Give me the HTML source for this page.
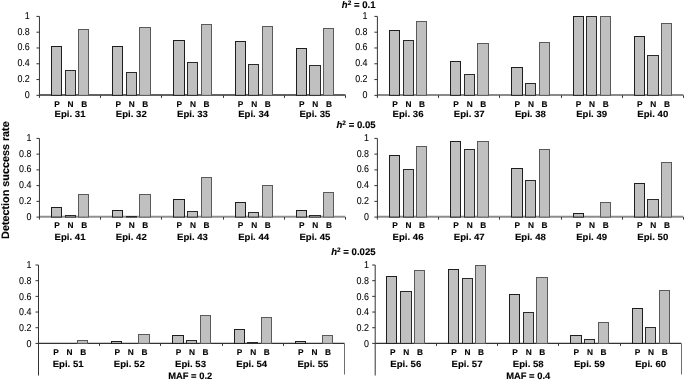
<!DOCTYPE html>
<html><head><meta charset="utf-8"><title>Detection success rate</title>
<style>
html,body{margin:0;padding:0;background:#fff;}
body{width:685px;height:381px;overflow:hidden;}
svg{display:block;}
text{text-rendering:geometricPrecision;font-family:"Liberation Sans", Arial, sans-serif;fill:#000;stroke:#000;stroke-width:0.12px;}
.yl{font-size:10px;text-anchor:end;stroke:#000;stroke-width:0.08px;}
.pnb{font-size:8.3px;font-weight:bold;text-anchor:middle;}
.epi{font-size:9.0px;font-weight:bold;text-anchor:middle;}
.h2{font-size:9.6px;font-weight:bold;text-anchor:end;}
.sup{font-size:6.5px;}
.maf{font-size:9.4px;font-weight:bold;text-anchor:middle;}
.ylab{font-size:10.8px;font-weight:bold;text-anchor:middle;}
</style></head><body>
<svg width="685" height="381" viewBox="0 0 685 381">
<g>
<rect width="685" height="381" fill="#fff"/>
<line x1="39.45" y1="95.00" x2="345.45" y2="95.00" stroke="#626262" stroke-width="1.8"/>
<rect x="51.50" y="46.50" width="10.00" height="48.85" fill="#c0c0c0" stroke="#1e1e1e" stroke-width="1"/>
<rect x="65.50" y="70.50" width="10.00" height="24.85" fill="#c0c0c0" stroke="#2a2a2a" stroke-width="1"/>
<rect x="78.50" y="29.50" width="10.00" height="65.85" fill="#c0c0c0" stroke="#5a5a5a" stroke-width="1"/>
<rect x="112.50" y="46.50" width="10.00" height="48.85" fill="#c0c0c0" stroke="#1e1e1e" stroke-width="1"/>
<rect x="126.50" y="72.50" width="10.00" height="22.85" fill="#c0c0c0" stroke="#2a2a2a" stroke-width="1"/>
<rect x="139.50" y="27.50" width="11.00" height="67.85" fill="#c0c0c0" stroke="#5a5a5a" stroke-width="1"/>
<rect x="173.50" y="40.50" width="11.00" height="54.85" fill="#c0c0c0" stroke="#1e1e1e" stroke-width="1"/>
<rect x="187.50" y="62.50" width="10.00" height="32.85" fill="#c0c0c0" stroke="#2a2a2a" stroke-width="1"/>
<rect x="201.50" y="24.50" width="10.00" height="70.85" fill="#c0c0c0" stroke="#5a5a5a" stroke-width="1"/>
<rect x="235.50" y="41.50" width="10.00" height="53.85" fill="#c0c0c0" stroke="#1e1e1e" stroke-width="1"/>
<rect x="248.50" y="64.50" width="10.00" height="30.85" fill="#c0c0c0" stroke="#2a2a2a" stroke-width="1"/>
<rect x="262.50" y="26.50" width="10.00" height="68.85" fill="#c0c0c0" stroke="#5a5a5a" stroke-width="1"/>
<rect x="296.50" y="48.50" width="10.00" height="46.85" fill="#c0c0c0" stroke="#1e1e1e" stroke-width="1"/>
<rect x="309.50" y="65.50" width="11.00" height="29.85" fill="#c0c0c0" stroke="#2a2a2a" stroke-width="1"/>
<rect x="323.50" y="28.50" width="10.00" height="66.85" fill="#c0c0c0" stroke="#5a5a5a" stroke-width="1"/>
<line x1="39.45" y1="16.40" x2="39.45" y2="97.85" stroke="#333333" stroke-width="1"/>
<line x1="36.45" y1="95.35" x2="39.45" y2="95.35" stroke="#333333" stroke-width="1"/>
<line x1="36.45" y1="79.56" x2="39.45" y2="79.56" stroke="#333333" stroke-width="1"/>
<line x1="36.45" y1="63.77" x2="39.45" y2="63.77" stroke="#333333" stroke-width="1"/>
<line x1="36.45" y1="47.98" x2="39.45" y2="47.98" stroke="#333333" stroke-width="1"/>
<line x1="36.45" y1="32.19" x2="39.45" y2="32.19" stroke="#333333" stroke-width="1"/>
<line x1="36.45" y1="16.40" x2="39.45" y2="16.40" stroke="#333333" stroke-width="1"/>
<line x1="100.50" y1="95.35" x2="100.50" y2="97.85" stroke="#333333" stroke-width="1"/>
<line x1="161.50" y1="95.35" x2="161.50" y2="97.85" stroke="#333333" stroke-width="1"/>
<line x1="223.50" y1="95.35" x2="223.50" y2="97.85" stroke="#333333" stroke-width="1"/>
<line x1="284.50" y1="95.35" x2="284.50" y2="97.85" stroke="#333333" stroke-width="1"/>
<line x1="345.50" y1="95.35" x2="345.50" y2="97.85" stroke="#333333" stroke-width="1"/>
<line x1="377.40" y1="95.00" x2="683.40" y2="95.00" stroke="#8a8a8a" stroke-width="1.9"/>
<rect x="389.50" y="30.50" width="10.00" height="64.85" fill="#c0c0c0" stroke="#1e1e1e" stroke-width="1"/>
<rect x="403.50" y="40.50" width="10.00" height="54.85" fill="#c0c0c0" stroke="#2a2a2a" stroke-width="1"/>
<rect x="416.50" y="21.50" width="10.00" height="73.85" fill="#c0c0c0" stroke="#5a5a5a" stroke-width="1"/>
<rect x="450.50" y="61.50" width="10.00" height="33.85" fill="#c0c0c0" stroke="#1e1e1e" stroke-width="1"/>
<rect x="464.50" y="74.50" width="10.00" height="20.85" fill="#c0c0c0" stroke="#2a2a2a" stroke-width="1"/>
<rect x="477.50" y="43.50" width="11.00" height="51.85" fill="#c0c0c0" stroke="#5a5a5a" stroke-width="1"/>
<rect x="511.50" y="67.50" width="11.00" height="27.85" fill="#c0c0c0" stroke="#1e1e1e" stroke-width="1"/>
<rect x="525.50" y="83.50" width="10.00" height="11.85" fill="#c0c0c0" stroke="#2a2a2a" stroke-width="1"/>
<rect x="539.50" y="42.50" width="10.00" height="52.85" fill="#c0c0c0" stroke="#5a5a5a" stroke-width="1"/>
<rect x="573.50" y="16.50" width="10.00" height="78.85" fill="#c0c0c0" stroke="#1e1e1e" stroke-width="1"/>
<rect x="586.50" y="16.50" width="10.00" height="78.85" fill="#c0c0c0" stroke="#2a2a2a" stroke-width="1"/>
<rect x="600.50" y="16.50" width="10.00" height="78.85" fill="#c0c0c0" stroke="#5a5a5a" stroke-width="1"/>
<rect x="634.50" y="36.50" width="10.00" height="58.85" fill="#c0c0c0" stroke="#1e1e1e" stroke-width="1"/>
<rect x="647.50" y="55.50" width="11.00" height="39.85" fill="#c0c0c0" stroke="#2a2a2a" stroke-width="1"/>
<rect x="661.50" y="23.50" width="10.00" height="71.85" fill="#c0c0c0" stroke="#5a5a5a" stroke-width="1"/>
<line x1="377.40" y1="16.40" x2="377.40" y2="97.85" stroke="#333333" stroke-width="1"/>
<line x1="374.40" y1="95.35" x2="377.40" y2="95.35" stroke="#333333" stroke-width="1"/>
<line x1="374.40" y1="79.56" x2="377.40" y2="79.56" stroke="#333333" stroke-width="1"/>
<line x1="374.40" y1="63.77" x2="377.40" y2="63.77" stroke="#333333" stroke-width="1"/>
<line x1="374.40" y1="47.98" x2="377.40" y2="47.98" stroke="#333333" stroke-width="1"/>
<line x1="374.40" y1="32.19" x2="377.40" y2="32.19" stroke="#333333" stroke-width="1"/>
<line x1="374.40" y1="16.40" x2="377.40" y2="16.40" stroke="#333333" stroke-width="1"/>
<line x1="438.50" y1="95.35" x2="438.50" y2="97.85" stroke="#333333" stroke-width="1"/>
<line x1="499.50" y1="95.35" x2="499.50" y2="97.85" stroke="#333333" stroke-width="1"/>
<line x1="561.50" y1="95.35" x2="561.50" y2="97.85" stroke="#333333" stroke-width="1"/>
<line x1="622.50" y1="95.35" x2="622.50" y2="97.85" stroke="#333333" stroke-width="1"/>
<line x1="683.50" y1="95.35" x2="683.50" y2="97.85" stroke="#333333" stroke-width="1"/>
<line x1="39.45" y1="216.80" x2="345.45" y2="216.80" stroke="#909090" stroke-width="1.9"/>
<rect x="51.50" y="207.50" width="10.00" height="9.60" fill="#c0c0c0" stroke="#1e1e1e" stroke-width="1"/>
<rect x="65.50" y="215.50" width="10.00" height="1.60" fill="#c0c0c0" stroke="#2a2a2a" stroke-width="1"/>
<rect x="78.50" y="194.50" width="10.00" height="22.60" fill="#c0c0c0" stroke="#5a5a5a" stroke-width="1"/>
<rect x="112.50" y="210.50" width="10.00" height="6.60" fill="#c0c0c0" stroke="#1e1e1e" stroke-width="1"/>
<rect x="126.50" y="216.50" width="10.00" height="0.60" fill="#c0c0c0" stroke="#2a2a2a" stroke-width="1"/>
<rect x="139.50" y="194.50" width="11.00" height="22.60" fill="#c0c0c0" stroke="#5a5a5a" stroke-width="1"/>
<rect x="173.50" y="199.50" width="11.00" height="17.60" fill="#c0c0c0" stroke="#1e1e1e" stroke-width="1"/>
<rect x="187.50" y="211.50" width="10.00" height="5.60" fill="#c0c0c0" stroke="#2a2a2a" stroke-width="1"/>
<rect x="201.50" y="177.50" width="10.00" height="39.60" fill="#c0c0c0" stroke="#5a5a5a" stroke-width="1"/>
<rect x="235.50" y="202.50" width="10.00" height="14.60" fill="#c0c0c0" stroke="#1e1e1e" stroke-width="1"/>
<rect x="248.50" y="212.50" width="10.00" height="4.60" fill="#c0c0c0" stroke="#2a2a2a" stroke-width="1"/>
<rect x="262.50" y="185.50" width="10.00" height="31.60" fill="#c0c0c0" stroke="#5a5a5a" stroke-width="1"/>
<rect x="296.50" y="210.50" width="10.00" height="6.60" fill="#c0c0c0" stroke="#1e1e1e" stroke-width="1"/>
<rect x="309.50" y="215.50" width="11.00" height="1.60" fill="#c0c0c0" stroke="#2a2a2a" stroke-width="1"/>
<rect x="323.50" y="192.50" width="10.00" height="24.60" fill="#c0c0c0" stroke="#5a5a5a" stroke-width="1"/>
<line x1="39.45" y1="138.40" x2="39.45" y2="219.60" stroke="#333333" stroke-width="1"/>
<line x1="36.45" y1="217.10" x2="39.45" y2="217.10" stroke="#333333" stroke-width="1"/>
<line x1="36.45" y1="201.36" x2="39.45" y2="201.36" stroke="#333333" stroke-width="1"/>
<line x1="36.45" y1="185.62" x2="39.45" y2="185.62" stroke="#333333" stroke-width="1"/>
<line x1="36.45" y1="169.88" x2="39.45" y2="169.88" stroke="#333333" stroke-width="1"/>
<line x1="36.45" y1="154.14" x2="39.45" y2="154.14" stroke="#333333" stroke-width="1"/>
<line x1="36.45" y1="138.40" x2="39.45" y2="138.40" stroke="#333333" stroke-width="1"/>
<line x1="100.50" y1="217.10" x2="100.50" y2="219.60" stroke="#333333" stroke-width="1"/>
<line x1="161.50" y1="217.10" x2="161.50" y2="219.60" stroke="#333333" stroke-width="1"/>
<line x1="223.50" y1="217.10" x2="223.50" y2="219.60" stroke="#333333" stroke-width="1"/>
<line x1="284.50" y1="217.10" x2="284.50" y2="219.60" stroke="#333333" stroke-width="1"/>
<line x1="345.50" y1="217.10" x2="345.50" y2="219.60" stroke="#333333" stroke-width="1"/>
<line x1="377.40" y1="216.80" x2="683.40" y2="216.80" stroke="#8c8c8c" stroke-width="1.9"/>
<rect x="389.50" y="155.50" width="10.00" height="61.60" fill="#c0c0c0" stroke="#1e1e1e" stroke-width="1"/>
<rect x="403.50" y="169.50" width="10.00" height="47.60" fill="#c0c0c0" stroke="#2a2a2a" stroke-width="1"/>
<rect x="416.50" y="146.50" width="10.00" height="70.60" fill="#c0c0c0" stroke="#5a5a5a" stroke-width="1"/>
<rect x="450.50" y="141.50" width="10.00" height="75.60" fill="#c0c0c0" stroke="#1e1e1e" stroke-width="1"/>
<rect x="464.50" y="149.50" width="10.00" height="67.60" fill="#c0c0c0" stroke="#2a2a2a" stroke-width="1"/>
<rect x="477.50" y="141.50" width="11.00" height="75.60" fill="#c0c0c0" stroke="#5a5a5a" stroke-width="1"/>
<rect x="511.50" y="168.50" width="11.00" height="48.60" fill="#c0c0c0" stroke="#1e1e1e" stroke-width="1"/>
<rect x="525.50" y="180.50" width="10.00" height="36.60" fill="#c0c0c0" stroke="#2a2a2a" stroke-width="1"/>
<rect x="539.50" y="149.50" width="10.00" height="67.60" fill="#c0c0c0" stroke="#5a5a5a" stroke-width="1"/>
<rect x="573.50" y="213.50" width="10.00" height="3.60" fill="#c0c0c0" stroke="#1e1e1e" stroke-width="1"/>
<rect x="600.50" y="202.50" width="10.00" height="14.60" fill="#c0c0c0" stroke="#5a5a5a" stroke-width="1"/>
<rect x="634.50" y="183.50" width="10.00" height="33.60" fill="#c0c0c0" stroke="#1e1e1e" stroke-width="1"/>
<rect x="647.50" y="199.50" width="11.00" height="17.60" fill="#c0c0c0" stroke="#2a2a2a" stroke-width="1"/>
<rect x="661.50" y="162.50" width="10.00" height="54.60" fill="#c0c0c0" stroke="#5a5a5a" stroke-width="1"/>
<line x1="377.40" y1="138.40" x2="377.40" y2="219.60" stroke="#333333" stroke-width="1"/>
<line x1="374.40" y1="217.10" x2="377.40" y2="217.10" stroke="#333333" stroke-width="1"/>
<line x1="374.40" y1="201.36" x2="377.40" y2="201.36" stroke="#333333" stroke-width="1"/>
<line x1="374.40" y1="185.62" x2="377.40" y2="185.62" stroke="#333333" stroke-width="1"/>
<line x1="374.40" y1="169.88" x2="377.40" y2="169.88" stroke="#333333" stroke-width="1"/>
<line x1="374.40" y1="154.14" x2="377.40" y2="154.14" stroke="#333333" stroke-width="1"/>
<line x1="374.40" y1="138.40" x2="377.40" y2="138.40" stroke="#333333" stroke-width="1"/>
<line x1="438.50" y1="217.10" x2="438.50" y2="219.60" stroke="#333333" stroke-width="1"/>
<line x1="499.50" y1="217.10" x2="499.50" y2="219.60" stroke="#333333" stroke-width="1"/>
<line x1="561.50" y1="217.10" x2="561.50" y2="219.60" stroke="#333333" stroke-width="1"/>
<line x1="622.50" y1="217.10" x2="622.50" y2="219.60" stroke="#333333" stroke-width="1"/>
<line x1="683.50" y1="217.10" x2="683.50" y2="219.60" stroke="#333333" stroke-width="1"/>
<line x1="38.50" y1="343.30" x2="344.50" y2="343.30" stroke="#333333" stroke-width="1.2"/>
<rect x="77.50" y="340.50" width="10.00" height="2.90" fill="#c0c0c0" stroke="#5a5a5a" stroke-width="1"/>
<rect x="111.50" y="341.50" width="10.00" height="1.90" fill="#c0c0c0" stroke="#1e1e1e" stroke-width="1"/>
<rect x="138.50" y="334.50" width="11.00" height="8.90" fill="#c0c0c0" stroke="#5a5a5a" stroke-width="1"/>
<rect x="172.50" y="335.50" width="11.00" height="7.90" fill="#c0c0c0" stroke="#1e1e1e" stroke-width="1"/>
<rect x="186.50" y="340.50" width="10.00" height="2.90" fill="#c0c0c0" stroke="#2a2a2a" stroke-width="1"/>
<rect x="200.50" y="315.50" width="10.00" height="27.90" fill="#c0c0c0" stroke="#5a5a5a" stroke-width="1"/>
<rect x="234.50" y="329.50" width="10.00" height="13.90" fill="#c0c0c0" stroke="#1e1e1e" stroke-width="1"/>
<rect x="247.50" y="342.50" width="10.00" height="0.90" fill="#c0c0c0" stroke="#2a2a2a" stroke-width="1"/>
<rect x="261.50" y="317.50" width="10.00" height="25.90" fill="#c0c0c0" stroke="#5a5a5a" stroke-width="1"/>
<rect x="295.50" y="341.50" width="10.00" height="1.90" fill="#c0c0c0" stroke="#1e1e1e" stroke-width="1"/>
<rect x="322.50" y="335.50" width="10.00" height="7.90" fill="#c0c0c0" stroke="#5a5a5a" stroke-width="1"/>
<line x1="38.50" y1="265.00" x2="38.50" y2="375.50" stroke="#333333" stroke-width="1"/>
<line x1="35.50" y1="343.40" x2="38.50" y2="343.40" stroke="#333333" stroke-width="1"/>
<line x1="35.50" y1="327.72" x2="38.50" y2="327.72" stroke="#333333" stroke-width="1"/>
<line x1="35.50" y1="312.04" x2="38.50" y2="312.04" stroke="#333333" stroke-width="1"/>
<line x1="35.50" y1="296.36" x2="38.50" y2="296.36" stroke="#333333" stroke-width="1"/>
<line x1="35.50" y1="280.68" x2="38.50" y2="280.68" stroke="#333333" stroke-width="1"/>
<line x1="35.50" y1="265.00" x2="38.50" y2="265.00" stroke="#333333" stroke-width="1"/>
<line x1="99.50" y1="343.40" x2="99.50" y2="345.90" stroke="#333333" stroke-width="1"/>
<line x1="160.50" y1="343.40" x2="160.50" y2="345.90" stroke="#333333" stroke-width="1"/>
<line x1="222.50" y1="343.40" x2="222.50" y2="345.90" stroke="#333333" stroke-width="1"/>
<line x1="283.50" y1="343.40" x2="283.50" y2="345.90" stroke="#333333" stroke-width="1"/>
<line x1="344.50" y1="343.40" x2="344.50" y2="374.50" stroke="#6e6e6e" stroke-width="1"/>
<line x1="375.20" y1="343.30" x2="681.20" y2="343.30" stroke="#333333" stroke-width="1.2"/>
<rect x="386.50" y="276.50" width="10.00" height="66.90" fill="#c0c0c0" stroke="#1e1e1e" stroke-width="1"/>
<rect x="400.50" y="291.50" width="11.00" height="51.90" fill="#c0c0c0" stroke="#2a2a2a" stroke-width="1"/>
<rect x="414.50" y="270.50" width="10.00" height="72.90" fill="#c0c0c0" stroke="#5a5a5a" stroke-width="1"/>
<rect x="448.50" y="269.50" width="10.00" height="73.90" fill="#c0c0c0" stroke="#1e1e1e" stroke-width="1"/>
<rect x="462.50" y="278.50" width="10.00" height="64.90" fill="#c0c0c0" stroke="#2a2a2a" stroke-width="1"/>
<rect x="475.50" y="265.50" width="10.00" height="77.90" fill="#c0c0c0" stroke="#5a5a5a" stroke-width="1"/>
<rect x="509.50" y="294.50" width="10.00" height="48.90" fill="#c0c0c0" stroke="#1e1e1e" stroke-width="1"/>
<rect x="523.50" y="312.50" width="10.00" height="30.90" fill="#c0c0c0" stroke="#2a2a2a" stroke-width="1"/>
<rect x="536.50" y="277.50" width="11.00" height="65.90" fill="#c0c0c0" stroke="#5a5a5a" stroke-width="1"/>
<rect x="570.50" y="335.50" width="11.00" height="7.90" fill="#c0c0c0" stroke="#1e1e1e" stroke-width="1"/>
<rect x="584.50" y="339.50" width="10.00" height="3.90" fill="#c0c0c0" stroke="#2a2a2a" stroke-width="1"/>
<rect x="598.50" y="322.50" width="10.00" height="20.90" fill="#c0c0c0" stroke="#5a5a5a" stroke-width="1"/>
<rect x="632.50" y="308.50" width="10.00" height="34.90" fill="#c0c0c0" stroke="#1e1e1e" stroke-width="1"/>
<rect x="645.50" y="327.50" width="10.00" height="15.90" fill="#c0c0c0" stroke="#2a2a2a" stroke-width="1"/>
<rect x="659.50" y="290.50" width="10.00" height="52.90" fill="#c0c0c0" stroke="#5a5a5a" stroke-width="1"/>
<line x1="375.20" y1="265.00" x2="375.20" y2="375.50" stroke="#333333" stroke-width="1"/>
<line x1="372.20" y1="343.40" x2="375.20" y2="343.40" stroke="#333333" stroke-width="1"/>
<line x1="372.20" y1="327.72" x2="375.20" y2="327.72" stroke="#333333" stroke-width="1"/>
<line x1="372.20" y1="312.04" x2="375.20" y2="312.04" stroke="#333333" stroke-width="1"/>
<line x1="372.20" y1="296.36" x2="375.20" y2="296.36" stroke="#333333" stroke-width="1"/>
<line x1="372.20" y1="280.68" x2="375.20" y2="280.68" stroke="#333333" stroke-width="1"/>
<line x1="372.20" y1="265.00" x2="375.20" y2="265.00" stroke="#333333" stroke-width="1"/>
<line x1="436.50" y1="343.40" x2="436.50" y2="345.90" stroke="#333333" stroke-width="1"/>
<line x1="497.50" y1="343.40" x2="497.50" y2="345.90" stroke="#333333" stroke-width="1"/>
<line x1="558.50" y1="343.40" x2="558.50" y2="345.90" stroke="#333333" stroke-width="1"/>
<line x1="620.50" y1="343.40" x2="620.50" y2="345.90" stroke="#333333" stroke-width="1"/>
<line x1="681.50" y1="343.40" x2="681.50" y2="374.50" stroke="#6e6e6e" stroke-width="1"/>
</g>
<text transform="translate(29.80,97.85) scale(0.89,1)" class="yl">0</text>
<text transform="translate(29.80,82.06) scale(0.89,1)" class="yl">0.2</text>
<text transform="translate(29.80,66.27) scale(0.89,1)" class="yl">0.4</text>
<text transform="translate(29.80,50.48) scale(0.89,1)" class="yl">0.6</text>
<text transform="translate(29.80,34.69) scale(0.89,1)" class="yl">0.8</text>
<text transform="translate(29.80,18.90) scale(0.89,1)" class="yl">1</text>
<text transform="translate(56.95,106.80)" class="pnb">P</text>
<text transform="translate(70.55,106.80)" class="pnb">N</text>
<text transform="translate(84.15,106.80)" class="pnb">B</text>
<text transform="translate(70.05,116.60) scale(1.065,1)" class="epi">Epi. 31</text>
<text transform="translate(118.15,106.80)" class="pnb">P</text>
<text transform="translate(131.75,106.80)" class="pnb">N</text>
<text transform="translate(145.35,106.80)" class="pnb">B</text>
<text transform="translate(131.25,116.60) scale(1.065,1)" class="epi">Epi. 32</text>
<text transform="translate(179.35,106.80)" class="pnb">P</text>
<text transform="translate(192.95,106.80)" class="pnb">N</text>
<text transform="translate(206.55,106.80)" class="pnb">B</text>
<text transform="translate(192.45,116.60) scale(1.065,1)" class="epi">Epi. 33</text>
<text transform="translate(240.55,106.80)" class="pnb">P</text>
<text transform="translate(254.15,106.80)" class="pnb">N</text>
<text transform="translate(267.75,106.80)" class="pnb">B</text>
<text transform="translate(253.65,116.60) scale(1.065,1)" class="epi">Epi. 34</text>
<text transform="translate(301.75,106.80)" class="pnb">P</text>
<text transform="translate(315.35,106.80)" class="pnb">N</text>
<text transform="translate(328.95,106.80)" class="pnb">B</text>
<text transform="translate(314.85,116.60) scale(1.065,1)" class="epi">Epi. 35</text>
<text transform="translate(367.55,97.85) scale(0.89,1)" class="yl">0</text>
<text transform="translate(367.55,82.06) scale(0.89,1)" class="yl">0.2</text>
<text transform="translate(367.55,66.27) scale(0.89,1)" class="yl">0.4</text>
<text transform="translate(367.55,50.48) scale(0.89,1)" class="yl">0.6</text>
<text transform="translate(367.55,34.69) scale(0.89,1)" class="yl">0.8</text>
<text transform="translate(367.55,18.90) scale(0.89,1)" class="yl">1</text>
<text transform="translate(394.90,106.80)" class="pnb">P</text>
<text transform="translate(408.50,106.80)" class="pnb">N</text>
<text transform="translate(422.10,106.80)" class="pnb">B</text>
<text transform="translate(408.00,116.60) scale(1.065,1)" class="epi">Epi. 36</text>
<text transform="translate(456.10,106.80)" class="pnb">P</text>
<text transform="translate(469.70,106.80)" class="pnb">N</text>
<text transform="translate(483.30,106.80)" class="pnb">B</text>
<text transform="translate(469.20,116.60) scale(1.065,1)" class="epi">Epi. 37</text>
<text transform="translate(517.30,106.80)" class="pnb">P</text>
<text transform="translate(530.90,106.80)" class="pnb">N</text>
<text transform="translate(544.50,106.80)" class="pnb">B</text>
<text transform="translate(530.40,116.60) scale(1.065,1)" class="epi">Epi. 38</text>
<text transform="translate(578.50,106.80)" class="pnb">P</text>
<text transform="translate(592.10,106.80)" class="pnb">N</text>
<text transform="translate(605.70,106.80)" class="pnb">B</text>
<text transform="translate(591.60,116.60) scale(1.065,1)" class="epi">Epi. 39</text>
<text transform="translate(639.70,106.80)" class="pnb">P</text>
<text transform="translate(653.30,106.80)" class="pnb">N</text>
<text transform="translate(666.90,106.80)" class="pnb">B</text>
<text transform="translate(652.80,116.60) scale(1.065,1)" class="epi">Epi. 40</text>
<text x="375.6" y="7.70" class="h2"><tspan font-style="italic">h</tspan><tspan class="sup" dy="-2.8">2</tspan><tspan dy="2.8"> = 0.1</tspan></text>
<text transform="translate(31.50,219.70) scale(0.89,1)" class="yl">0</text>
<text transform="translate(31.50,203.96) scale(0.89,1)" class="yl">0.2</text>
<text transform="translate(31.50,188.22) scale(0.89,1)" class="yl">0.4</text>
<text transform="translate(31.50,172.48) scale(0.89,1)" class="yl">0.6</text>
<text transform="translate(31.50,156.74) scale(0.89,1)" class="yl">0.8</text>
<text transform="translate(31.50,141.00) scale(0.89,1)" class="yl">1</text>
<text transform="translate(56.95,227.80)" class="pnb">P</text>
<text transform="translate(70.55,227.80)" class="pnb">N</text>
<text transform="translate(84.15,227.80)" class="pnb">B</text>
<text transform="translate(70.05,239.80) scale(1.065,1)" class="epi">Epi. 41</text>
<text transform="translate(118.15,227.80)" class="pnb">P</text>
<text transform="translate(131.75,227.80)" class="pnb">N</text>
<text transform="translate(145.35,227.80)" class="pnb">B</text>
<text transform="translate(131.25,239.80) scale(1.065,1)" class="epi">Epi. 42</text>
<text transform="translate(179.35,227.80)" class="pnb">P</text>
<text transform="translate(192.95,227.80)" class="pnb">N</text>
<text transform="translate(206.55,227.80)" class="pnb">B</text>
<text transform="translate(192.45,239.80) scale(1.065,1)" class="epi">Epi. 43</text>
<text transform="translate(240.55,227.80)" class="pnb">P</text>
<text transform="translate(254.15,227.80)" class="pnb">N</text>
<text transform="translate(267.75,227.80)" class="pnb">B</text>
<text transform="translate(253.65,239.80) scale(1.065,1)" class="epi">Epi. 44</text>
<text transform="translate(301.75,227.80)" class="pnb">P</text>
<text transform="translate(315.35,227.80)" class="pnb">N</text>
<text transform="translate(328.95,227.80)" class="pnb">B</text>
<text transform="translate(314.85,239.80) scale(1.065,1)" class="epi">Epi. 45</text>
<text transform="translate(369.05,219.70) scale(0.89,1)" class="yl">0</text>
<text transform="translate(369.05,203.96) scale(0.89,1)" class="yl">0.2</text>
<text transform="translate(369.05,188.22) scale(0.89,1)" class="yl">0.4</text>
<text transform="translate(369.05,172.48) scale(0.89,1)" class="yl">0.6</text>
<text transform="translate(369.05,156.74) scale(0.89,1)" class="yl">0.8</text>
<text transform="translate(369.05,141.00) scale(0.89,1)" class="yl">1</text>
<text transform="translate(394.90,227.80)" class="pnb">P</text>
<text transform="translate(408.50,227.80)" class="pnb">N</text>
<text transform="translate(422.10,227.80)" class="pnb">B</text>
<text transform="translate(408.00,239.80) scale(1.065,1)" class="epi">Epi. 46</text>
<text transform="translate(456.10,227.80)" class="pnb">P</text>
<text transform="translate(469.70,227.80)" class="pnb">N</text>
<text transform="translate(483.30,227.80)" class="pnb">B</text>
<text transform="translate(469.20,239.80) scale(1.065,1)" class="epi">Epi. 47</text>
<text transform="translate(517.30,227.80)" class="pnb">P</text>
<text transform="translate(530.90,227.80)" class="pnb">N</text>
<text transform="translate(544.50,227.80)" class="pnb">B</text>
<text transform="translate(530.40,239.80) scale(1.065,1)" class="epi">Epi. 48</text>
<text transform="translate(578.50,227.80)" class="pnb">P</text>
<text transform="translate(592.10,227.80)" class="pnb">N</text>
<text transform="translate(605.70,227.80)" class="pnb">B</text>
<text transform="translate(591.60,239.80) scale(1.065,1)" class="epi">Epi. 49</text>
<text transform="translate(639.70,227.80)" class="pnb">P</text>
<text transform="translate(653.30,227.80)" class="pnb">N</text>
<text transform="translate(666.90,227.80)" class="pnb">B</text>
<text transform="translate(652.80,239.80) scale(1.065,1)" class="epi">Epi. 50</text>
<text x="375.6" y="128.00" class="h2"><tspan font-style="italic">h</tspan><tspan class="sup" dy="-2.8">2</tspan><tspan dy="2.8"> = 0.05</tspan></text>
<text transform="translate(31.35,346.70) scale(0.89,1)" class="yl">0</text>
<text transform="translate(31.35,331.02) scale(0.89,1)" class="yl">0.2</text>
<text transform="translate(31.35,315.34) scale(0.89,1)" class="yl">0.4</text>
<text transform="translate(31.35,299.66) scale(0.89,1)" class="yl">0.6</text>
<text transform="translate(31.35,283.98) scale(0.89,1)" class="yl">0.8</text>
<text transform="translate(31.35,268.30) scale(0.89,1)" class="yl">1</text>
<text transform="translate(56.00,354.80)" class="pnb">P</text>
<text transform="translate(69.60,354.80)" class="pnb">N</text>
<text transform="translate(83.20,354.80)" class="pnb">B</text>
<text transform="translate(68.10,366.50) scale(1.065,1)" class="epi">Epi. 51</text>
<text transform="translate(117.20,354.80)" class="pnb">P</text>
<text transform="translate(130.80,354.80)" class="pnb">N</text>
<text transform="translate(144.40,354.80)" class="pnb">B</text>
<text transform="translate(129.30,366.50) scale(1.065,1)" class="epi">Epi. 52</text>
<text transform="translate(178.40,354.80)" class="pnb">P</text>
<text transform="translate(192.00,354.80)" class="pnb">N</text>
<text transform="translate(205.60,354.80)" class="pnb">B</text>
<text transform="translate(190.50,366.50) scale(1.065,1)" class="epi">Epi. 53</text>
<text transform="translate(239.60,354.80)" class="pnb">P</text>
<text transform="translate(253.20,354.80)" class="pnb">N</text>
<text transform="translate(266.80,354.80)" class="pnb">B</text>
<text transform="translate(251.70,366.50) scale(1.065,1)" class="epi">Epi. 54</text>
<text transform="translate(300.80,354.80)" class="pnb">P</text>
<text transform="translate(314.40,354.80)" class="pnb">N</text>
<text transform="translate(328.00,354.80)" class="pnb">B</text>
<text transform="translate(312.90,366.50) scale(1.065,1)" class="epi">Epi. 55</text>
<text transform="translate(368.95,346.70) scale(0.89,1)" class="yl">0</text>
<text transform="translate(368.95,331.02) scale(0.89,1)" class="yl">0.2</text>
<text transform="translate(368.95,315.34) scale(0.89,1)" class="yl">0.4</text>
<text transform="translate(368.95,299.66) scale(0.89,1)" class="yl">0.6</text>
<text transform="translate(368.95,283.98) scale(0.89,1)" class="yl">0.8</text>
<text transform="translate(368.95,268.30) scale(0.89,1)" class="yl">1</text>
<text transform="translate(392.70,354.80)" class="pnb">P</text>
<text transform="translate(406.30,354.80)" class="pnb">N</text>
<text transform="translate(419.90,354.80)" class="pnb">B</text>
<text transform="translate(405.80,366.50) scale(1.065,1)" class="epi">Epi. 56</text>
<text transform="translate(453.90,354.80)" class="pnb">P</text>
<text transform="translate(467.50,354.80)" class="pnb">N</text>
<text transform="translate(481.10,354.80)" class="pnb">B</text>
<text transform="translate(467.00,366.50) scale(1.065,1)" class="epi">Epi. 57</text>
<text transform="translate(515.10,354.80)" class="pnb">P</text>
<text transform="translate(528.70,354.80)" class="pnb">N</text>
<text transform="translate(542.30,354.80)" class="pnb">B</text>
<text transform="translate(528.20,366.50) scale(1.065,1)" class="epi">Epi. 58</text>
<text transform="translate(576.30,354.80)" class="pnb">P</text>
<text transform="translate(589.90,354.80)" class="pnb">N</text>
<text transform="translate(603.50,354.80)" class="pnb">B</text>
<text transform="translate(589.40,366.50) scale(1.065,1)" class="epi">Epi. 59</text>
<text transform="translate(637.50,354.80)" class="pnb">P</text>
<text transform="translate(651.10,354.80)" class="pnb">N</text>
<text transform="translate(664.70,354.80)" class="pnb">B</text>
<text transform="translate(650.60,366.50) scale(1.065,1)" class="epi">Epi. 60</text>
<text x="375.6" y="254.50" class="h2"><tspan font-style="italic">h</tspan><tspan class="sup" dy="-2.8">2</tspan><tspan dy="2.8"> = 0.025</tspan></text>
<text x="190.2" y="379.4" class="maf">MAF = 0.2</text>
<text x="528.2" y="379.4" class="maf">MAF = 0.4</text>
<text transform="translate(8.5,180.1) rotate(-90)" class="ylab">Detection success rate</text>
</svg>
</body></html>
